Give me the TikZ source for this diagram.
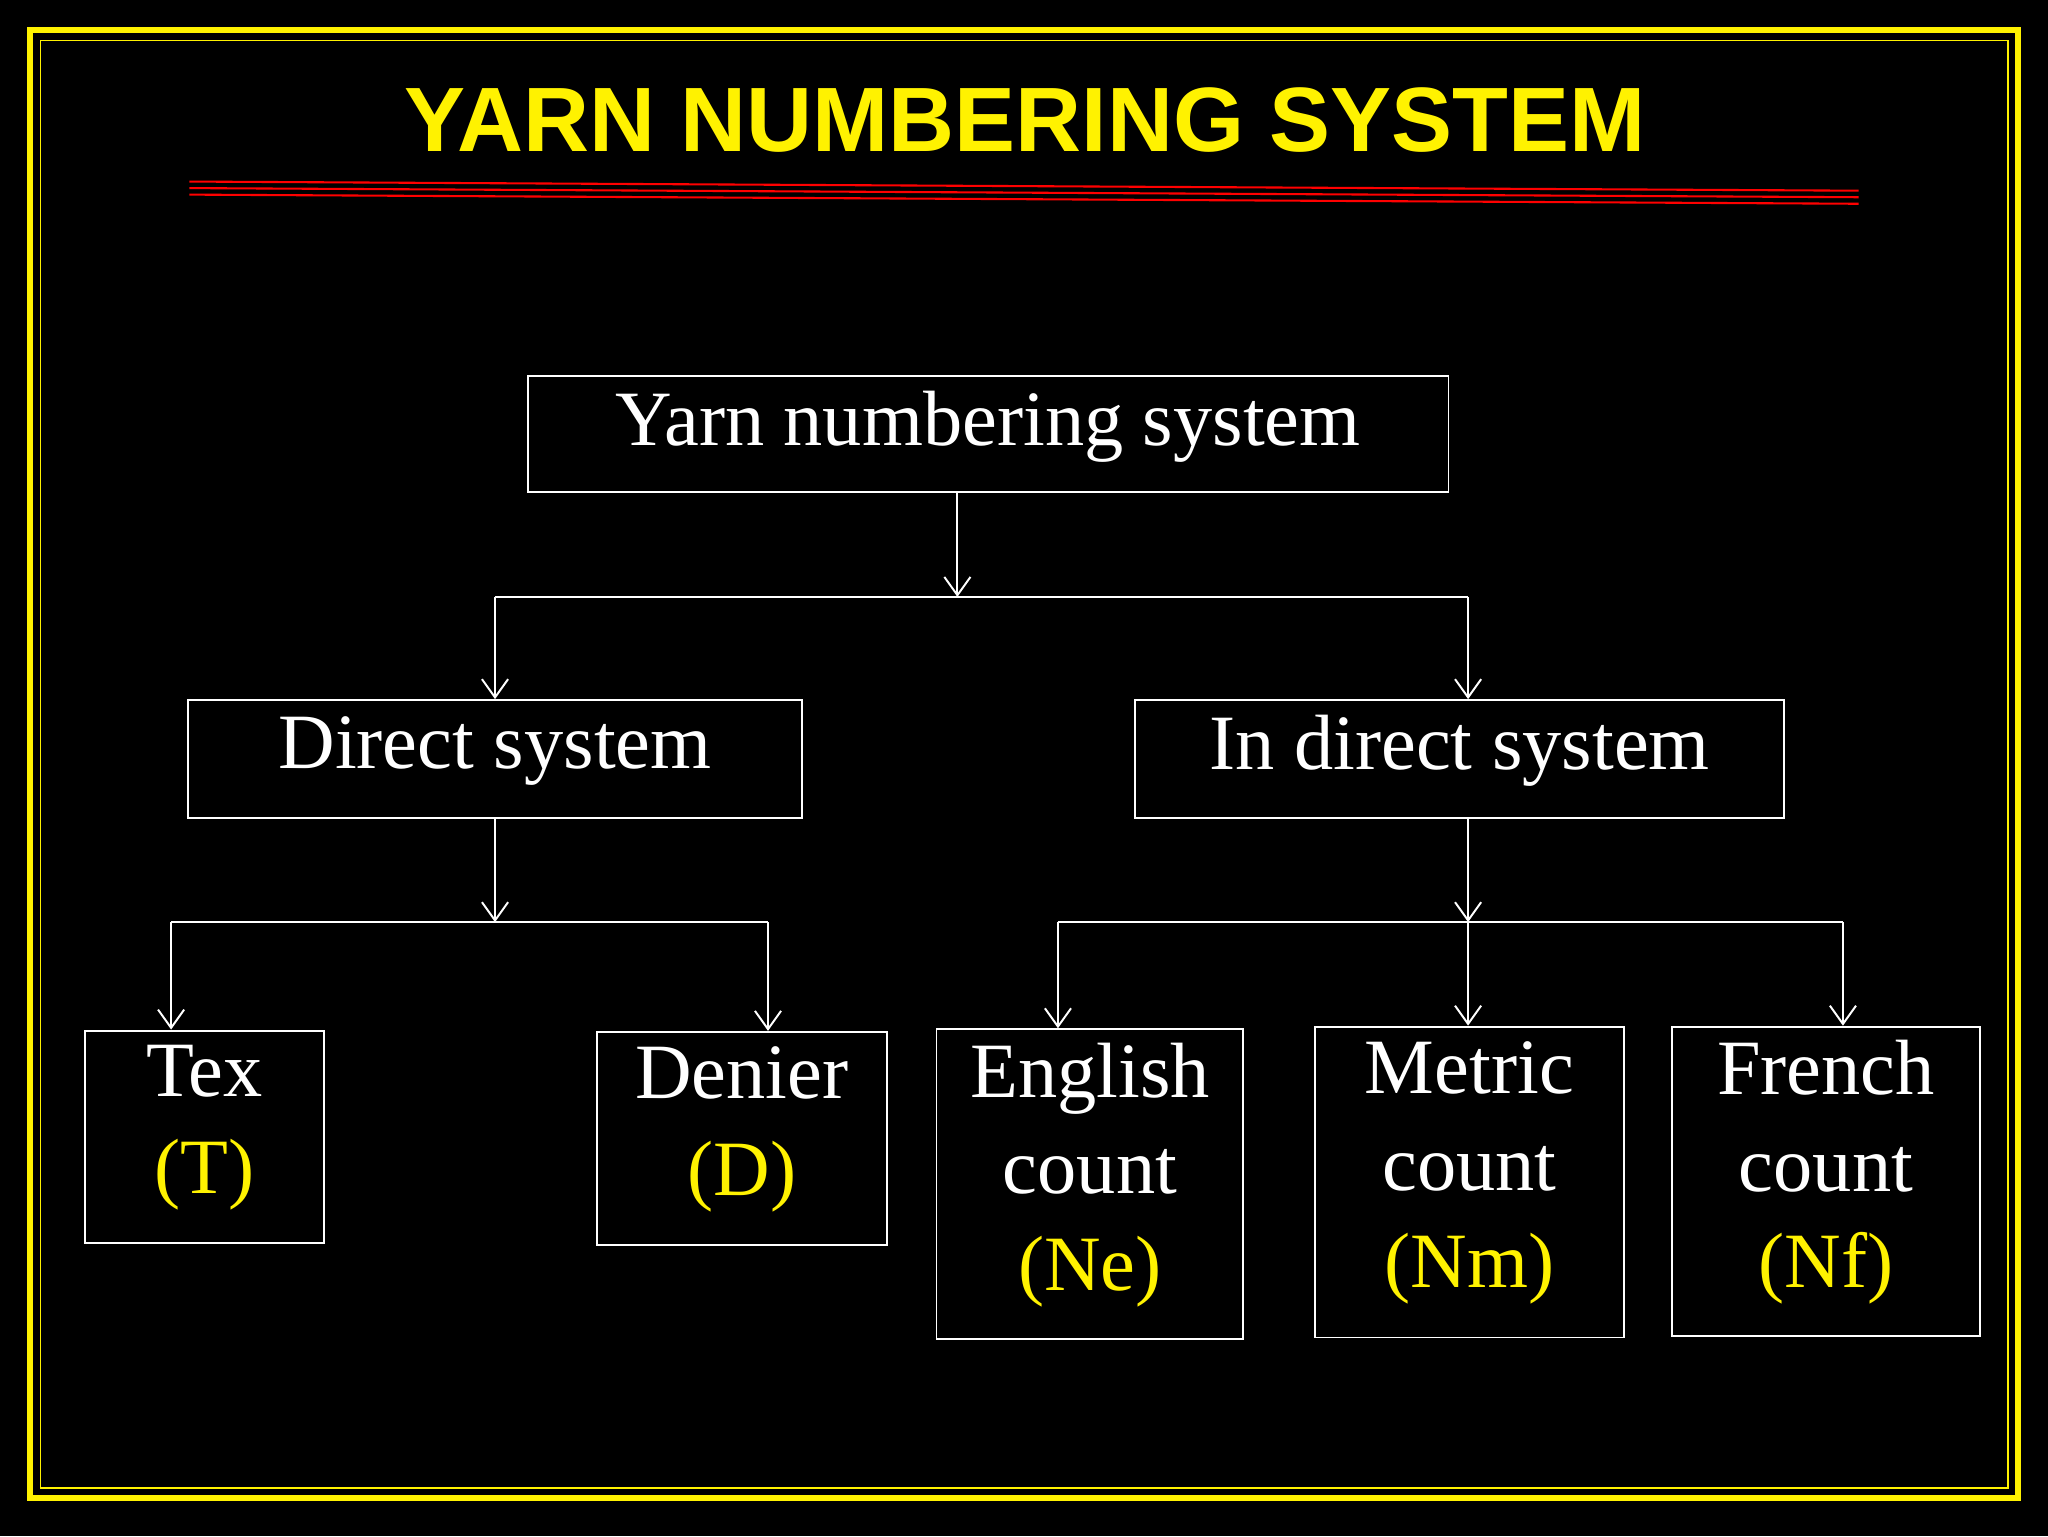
\documentclass[tikz,border=0pt]{standalone}
\usepackage{fontspec}
\setmainfont{Liberation Serif}
\newfontfamily\titlefont{Liberation Sans}
\usetikzlibrary{arrows.meta}
\begin{document}
\begin{tikzpicture}[x=1pt,y=-1pt,
  box/.style={draw=white,line width=1.5pt,inner sep=0pt},
  lbl/.style={text=white,inner sep=0pt,align=center,font=\fontsize{60}{74}\selectfont},
  arr/.style={white,line width=1.5pt,-{Straight Barb[length=14pt,width=20pt]}},
  ln/.style={white,line width=1.5pt}]
\useasboundingbox (0,0) rectangle (1568,1176);
\fill[black] (0,0) rectangle (1568,1176);
\draw[yellow,line width=5pt] (23,23) rectangle (1545,1147);
\draw[yellow,line width=1.5pt] (31,31) rectangle (1537,1139);
\foreach \d in {0,5,10} \draw[red,line width=1.6pt] (145,139+\d) -- (1423,146+\d);
\node[text=yellow,font=\titlefont\bfseries\fontsize{70}{80}\selectfont] (title) at (785,92) {YARN NUMBERING SYSTEM};
\node[box,minimum width=705,minimum height=89] (root) at (756.5,332.5) {};
\node[box,minimum width=470,minimum height=90] (dir) at (379,581) {};
\node[box,minimum width=497,minimum height=90] (ind) at (1117.5,581) {};
\node[box,minimum width=183,minimum height=163] (tex) at (156.5,870.5) {};
\node[box,minimum width=222,minimum height=163] (den) at (568,871.5) {};
\node[box,minimum width=235,minimum height=237] (eng) at (834.5,906.5) {};
\node[box,minimum width=236,minimum height=238] (met) at (1125,905) {};
\node[box,minimum width=236,minimum height=237] (fre) at (1398,904.5) {};
\node[lbl] (troot) at ([yshift=6]root.center) {Yarn numbering system};
\node[lbl] (tdir) at ([yshift=6]dir.center) {Direct system};
\node[lbl] (tind) at ([yshift=6]ind.center) {In direct system};
\node[lbl] (ttex) at ([yshift=7]tex.center) {Tex\\\textcolor{yellow}{(T)}};
\node[lbl] (tden) at ([yshift=7]den.center) {Denier\\\textcolor{yellow}{(D)}};
\node[lbl] (teng) at ([yshift=7]eng.center) {English\\count\\\textcolor{yellow}{(Ne)}};
\node[lbl] (tmet) at ([yshift=7]met.center) {Metric\\count\\\textcolor{yellow}{(Nm)}};
\node[lbl] (tfre) at ([yshift=7]fre.center) {French\\count\\\textcolor{yellow}{(Nf)}};
\coordinate (j1) at (733,457);
\coordinate (a1) at (379,457);
\coordinate (a2) at (1124,457);
\draw[arr] (root.south -| j1) -- (j1);
\draw[ln] (a1) -- (a2);
\draw[arr] (a1) -- (a1 |- dir.north);
\draw[arr] (a2) -- (a2 |- ind.north);
\coordinate (j2) at (379,706);
\coordinate (b1) at (131,706);
\coordinate (b2) at (588,706);
\draw[arr] (dir.south) -- (j2);
\draw[ln] (b1) -- (b2);
\draw[arr] (b1) -- (b1 |- tex.north);
\draw[arr] (b2) -- (b2 |- den.north);
\coordinate (j3) at (1124,706);
\coordinate (c1) at (810,706);
\coordinate (c3) at (1411,706);
\draw[arr] (ind.south -| j3) -- (j3);
\draw[ln] (c1) -- (c3);
\draw[arr] (c1) -- (c1 |- eng.north);
\draw[arr] (j3) -- (j3 |- met.north);
\draw[arr] (c3) -- (c3 |- fre.north);
\end{tikzpicture}
\end{document}
